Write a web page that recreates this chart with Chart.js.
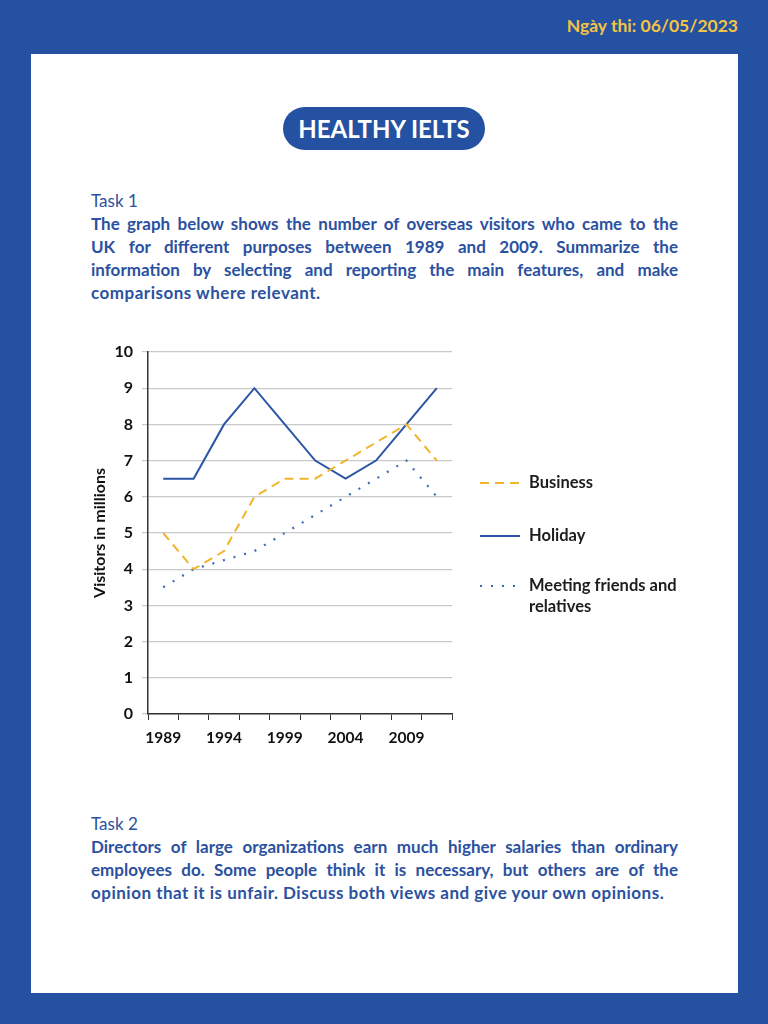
<!DOCTYPE html>
<html>
<head>
<meta charset="utf-8">
<script src="https://cdn.jsdelivr.net/npm/chart.js@4.4.0/dist/chart.umd.min.js"></script>
<style>
  html, body { margin: 0; padding: 0; }
  body {
    width: 768px;
    height: 1024px;
    background: #2451a1;
    position: relative;
    overflow: hidden;
    font-family: 'Lato', sans-serif;
  }
  .date {
    position: absolute;
    right: 30px;
    top: 15px;
    color: #f4c344;
    font-size: 17.5px;
    font-weight: 700;
  }
  .card {
    position: absolute;
    left: 31px;
    top: 54px;
    width: 707px;
    height: 939px;
    background: #fff;
  }
  .pill {
    position: absolute;
    left: 283px;
    top: 107px;
    width: 202px;
    height: 43px;
    border-radius: 22px;
    background: #2451a1;
    color: #fff;
    font-size: 24px;
    font-weight: 700;
    line-height: 43px;
    text-align: center;
  }
  .task {
    position: absolute;
    left: 91px;
    width: 587px;
    color: #2b51a0;
    font-size: 17px;
    line-height: 23px;
    font-weight: 700;
  }
  .task .head { font-weight: 400; }
  .task .j { text-align: justify; text-align-last: justify; }
  .task .last { letter-spacing: 0.5px; }
  #task1 { top: 189px; }
  #task2 { top: 812px; }
  .chart-box {
    position: absolute;
    left: 80px;
    top: 340px;
    width: 620px;
    height: 410px;
  }
</style>
</head>
<body>
<div class="date">Ngày thi: 06/05/2023</div>
<div class="card"></div>
<div class="pill">HEALTHY IELTS</div>

<div class="task" id="task1">
  <div class="head">Task 1</div>
  <div class="j">The graph below shows the number of overseas visitors who came to the</div>
  <div class="j">UK for different purposes between 1989 and 2009. Summarize the</div>
  <div class="j">information by selecting and reporting the main features, and make</div>
  <div class="last">comparisons where relevant.</div>
</div>

<div class="chart-box"><canvas id="visitorsChart"></canvas></div>

<div class="task" id="task2">
  <div class="head">Task 2</div>
  <div class="j">Directors of large organizations earn much higher salaries than ordinary</div>
  <div class="j">employees do. Some people think it is necessary, but others are of the</div>
  <div class="last">opinion that it is unfair. Discuss both views and give your own opinions.</div>
</div>

<script>
// x tick labels (one every second point, like the original)
const xLabels = ['1989', '', '1994', '', '1999', '', '2004', '', '2009', ''];
const yTicks = [0, 1, 2, 3, 4, 5, 6, 7, 8, 9, 10];

// visitors in millions
const business = [5, 4, 4.5, 6, 6.5, 6.5, 7, 7.5, 8, 7];
const holiday = [6.5, 6.5, 8, 9, 8, 7, 6.5, 7, 8, 9];
const friends = [3.5, 4, 4.25, 4.5, 5, 5.5, 6, 6.5, 7, 6];

const seriesNames = ['Business', 'Holiday', 'Meeting friends and relatives'];

// Legend drawn beside the plot, like the printed chart
const sideLegend = {
    id: 'sideLegend',
    afterDraw(chart) {
        const ctx = chart.ctx;
        const x0 = chart.chartArea.right + 28;
        const rows = [143, 196, 246];
        ctx.save();
        ctx.font = '700 16.5px Lato';
        ctx.fillStyle = '#1d1d1d';
        ctx.textBaseline = 'middle';
        chart.data.datasets.forEach((ds, i) => {
            const y = rows[i];
            ctx.beginPath();
            ctx.strokeStyle = ds.borderColor;
            ctx.lineWidth = ds.borderWidth;
            ctx.setLineDash(ds.borderDash || []);
            ctx.moveTo(x0, y);
            ctx.lineTo(x0 + 40, y);
            ctx.stroke();
            ctx.setLineDash([]);

            // wrap long labels
            const words = ds.label.split(' ');
            let line = '';
            let ly = y;
            words.forEach(w => {
                const test = line ? line + ' ' + w : w;
                if (ctx.measureText(test).width > 160 && line) {
                    ctx.fillText(line, x0 + 49, ly);
                    line = w;
                    ly += 21;
                } else {
                    line = test;
                }
            });
            ctx.fillText(line, x0 + 49, ly);
        });
        ctx.restore();
    }
};

const ctx = document.getElementById('visitorsChart').getContext('2d');

new Chart(ctx, {
    type: 'line',
    data: {
        labels: xLabels,
        datasets: [{
            label: seriesNames[0],
            data: business,
            borderColor: '#f1b52b',
            borderWidth: 2,
            borderDash: [9, 6],
            pointRadius: 0,
            tension: 0
        }, {
            label: seriesNames[1],
            data: holiday,
            borderColor: '#2b55a4',
            borderWidth: 2,
            pointRadius: 0,
            tension: 0
        }, {
            label: seriesNames[2],
            data: friends,
            borderColor: '#3c6cb6',
            borderWidth: 2.2,
            borderDash: [2, 9],
            pointRadius: 0,
            tension: 0
        }]
    },
    options: {
        responsive: true,
        maintainAspectRatio: false,
        animation: false,
        layout: { padding: { top: 12, right: 248, left: 0, bottom: 0 } },
        plugins: {
            legend: { display: false },
            tooltip: { enabled: false }
        },
        scales: {
            x: {
                offset: true,
                grid: { offset: true, drawOnChartArea: false, tickLength: 6, color: '#333' },
                border: { color: '#333', width: 1.5 },
                ticks: {
                    autoSkip: false,
                    maxRotation: 0,
                    color: '#111',
                    padding: 9,
                    font: { family: 'Lato', size: 15.5, weight: '700' }
                },
                afterFit(scale) { scale.height = 36; }
            },
            y: {
                min: 0,
                max: 10,
                afterBuildTicks(scale) { scale.ticks = yTicks.map(v => ({ value: v })); },
                grid: { color: '#c9c9c9', tickLength: 6, lineWidth: 1.2 },
                border: { color: '#333', width: 1.5 },
                ticks: {
                    color: '#111',
                    padding: 9,
                    font: { family: 'Lato', size: 16, weight: '700' }
                },
                title: {
                    display: true,
                    text: 'Visitors in millions',
                    color: '#111',
                    padding: { top: 10, bottom: 0 },
                    font: { family: 'Lato', size: 16, weight: '700' }
                },
                afterFit(scale) {
                    scale.width = 68;
                    scale.paddingTop = 0;
                    scale.paddingBottom = 0;
                }
            }
        }
    },
    plugins: [sideLegend]
});
</script>
</body>
</html>
